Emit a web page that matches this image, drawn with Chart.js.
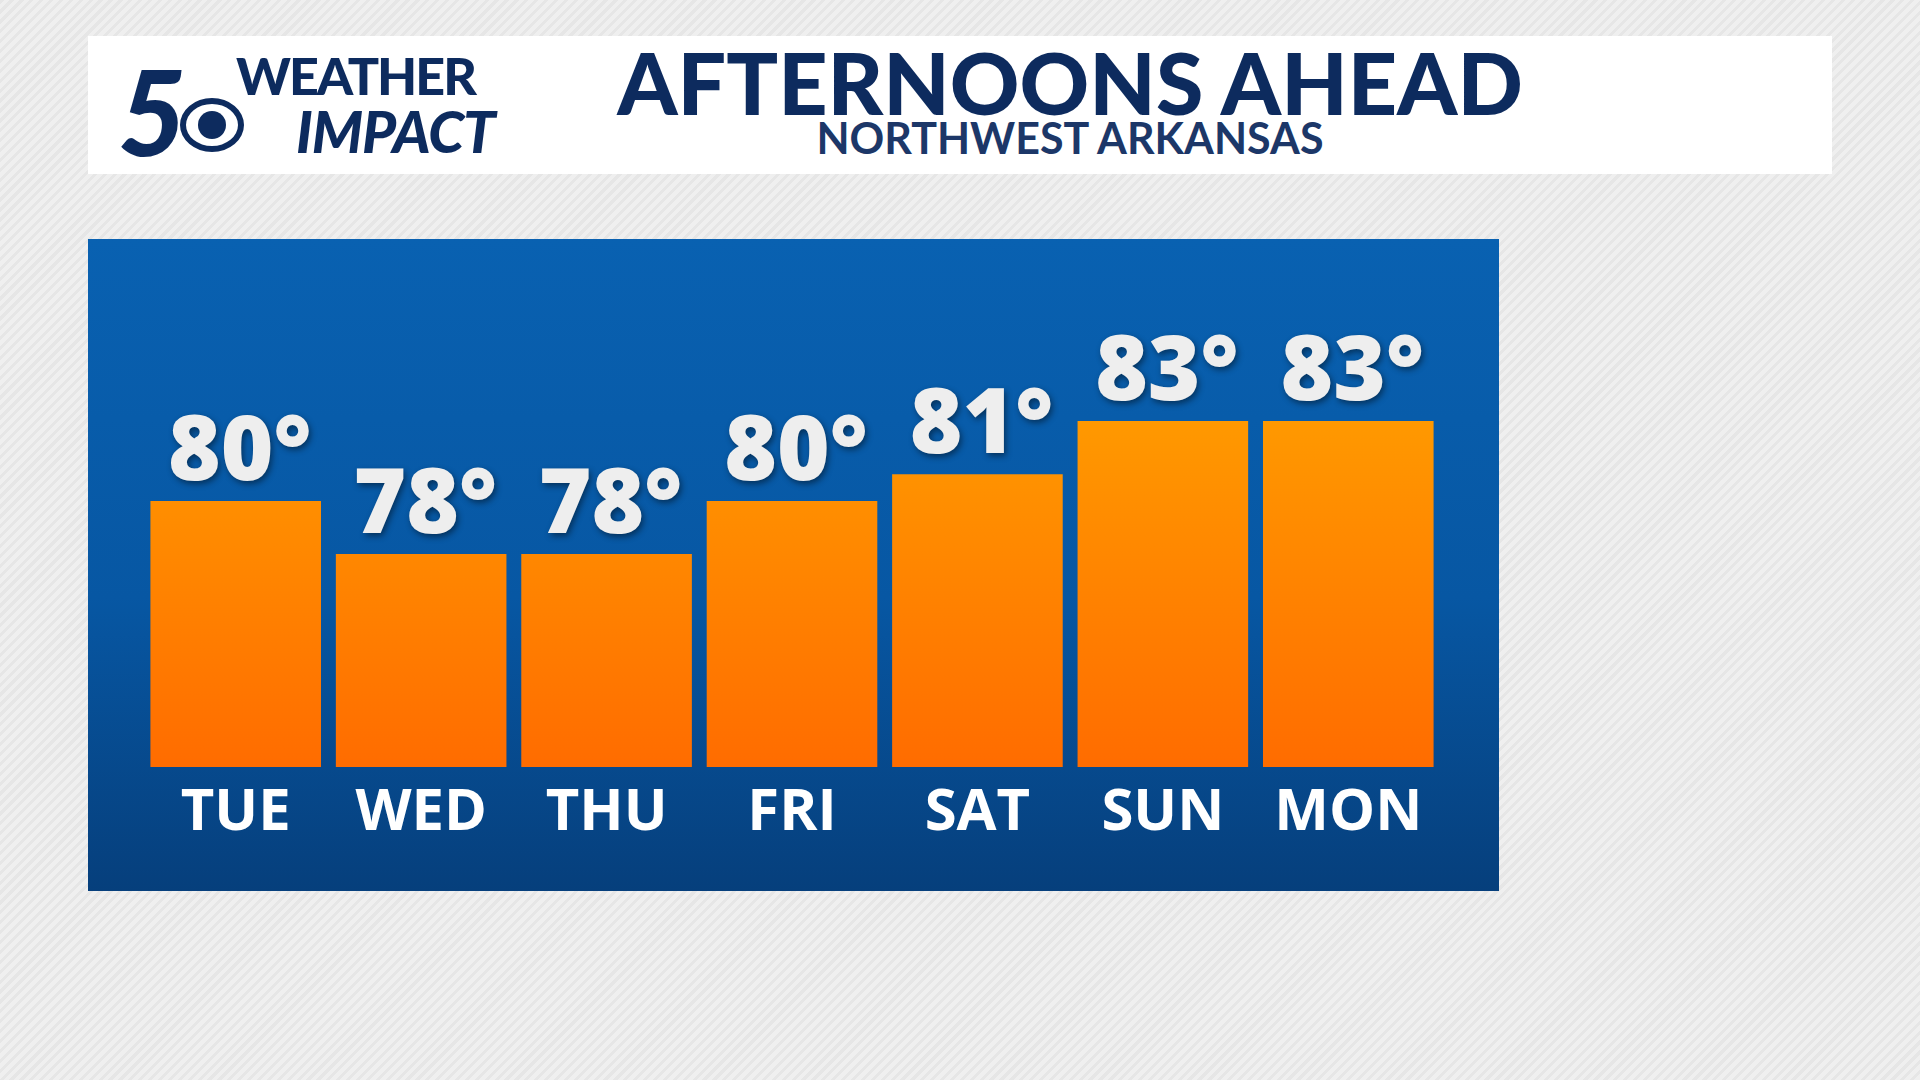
<!DOCTYPE html>
<html><head><meta charset="utf-8">
<script src="https://cdn.jsdelivr.net/npm/chart.js@4"></script>
<style>
body{margin:0;width:1920px;height:1080px;overflow:hidden;font-family:"Open Sans",sans-serif;
background:repeating-linear-gradient(135deg,#e6e6e6 0 3px,#efefef 3px 7px);}
#hdr{position:absolute;left:88px;top:36px;width:1744px;height:138px;background:#fff;}
#logo5{position:absolute;left:30px;top:4px;font:900 118px "Lato",sans-serif;color:#0d2b5e;font-style:italic;}
#eye{position:absolute;left:92px;top:62px;width:52px;height:42px;border-radius:50%;border:6px solid #0d2b5e;background:#fff}
#eye:after{content:"";position:absolute;left:12px;top:7px;width:28px;height:28px;border-radius:50%;background:#0d2b5e}
#w1{position:absolute;left:148px;top:8px;font:900 52px "Lato",sans-serif;color:#0d2b5e;letter-spacing:-2px}
#w2{position:absolute;left:208px;top:60px;font:900 italic 58px "Lato",sans-serif;color:#0d2b5e;letter-spacing:-1px}
#t1{position:absolute;left:402px;top:-6px;width:1160px;text-align:center;font:900 86px "Lato",sans-serif;color:#0d2b5e;}
#t2{position:absolute;left:402px;top:76px;width:1160px;text-align:center;font:700 43px "Lato",sans-serif;color:#1c3768;}
#panel{position:absolute;left:88px;top:239px;width:1411px;height:652px;background:linear-gradient(180deg,#0961b1 0%,#0757a3 55%,#063f7c 100%);}
</style></head><body>
<div id="hdr"><div id="logo5">5</div><div id="eye"></div><div id="w1">WEATHER</div><div id="w2">IMPACT</div>
<div id="t1">AFTERNOONS AHEAD</div><div id="t2">NORTHWEST ARKANSAS</div></div>
<div id="panel"><canvas id="c" width="1411" height="652"></canvas></div>
<script>
const days=["TUE","WED","THU","FRI","SAT","SUN","MON"];
const highs=[80,78,78,80,81,83,83];
const yMin=70, yMax=88;
const labelPlugin={id:'lbl',afterDatasetsDraw(ch){const c=ch.ctx;const m=ch.getDatasetMeta(0);
c.save();c.font='800 90px "Open Sans",sans-serif';c.textAlign='center';c.textBaseline='bottom';
m.data.forEach((b,i)=>{c.shadowColor='rgba(0,0,0,0.45)';c.shadowBlur=6;c.shadowOffsetX=2;c.shadowOffsetY=3;
c.fillStyle='#eeeeee';c.fillText(highs[i]+'°',b.x+4,b.y-2);});c.restore();}};
new Chart(document.getElementById('c'),{type:'bar',
data:{labels:days,datasets:[{data:highs,borderWidth:0,
backgroundColor:(ctx)=>{const a=ctx.chart.chartArea;if(!a)return '#ff8c00';const g=ctx.chart.ctx.createLinearGradient(0,a.top+60,0,a.bottom);g.addColorStop(0,'#ffa200');g.addColorStop(1,'#ff6c00');return g;},
categoryPercentage:1,barPercentage:0.92}]},
options:{responsive:false,animation:false,layout:{padding:{left:55,right:58,top:49,bottom:0}},
plugins:{legend:{display:false},tooltip:{enabled:false}},
scales:{y:{display:false,min:yMin,max:yMax},
x:{grid:{display:false},border:{display:false},afterFit(s){s.height=124;},
ticks:{color:'#ffffff',padding:4,font:{family:'"Liberation Sans Narrow","Open Sans",sans-serif',size:58,weight:'bold'}}}}},
plugins:[labelPlugin]});
</script></body></html>
